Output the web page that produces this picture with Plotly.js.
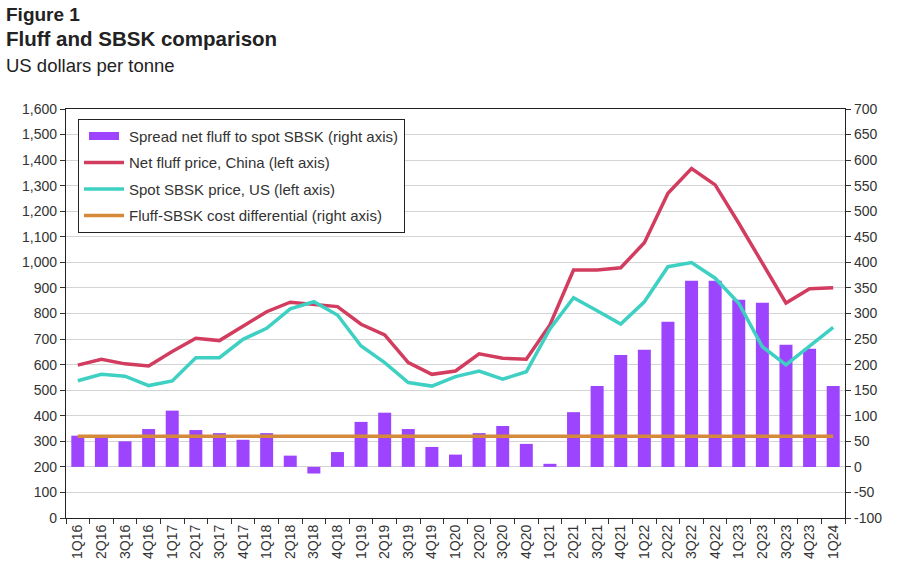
<!DOCTYPE html>
<html>
<head>
<meta charset="utf-8">
<script src="https://cdn.plot.ly/plotly-3.0.1.min.js"></script>
<style>
html,body{margin:0;padding:0;background:#fff;}
#chart{width:909px;height:580px;}
</style>
</head>
<body>
<div id="chart"></div>
<script>
const quarters = ["1Q16","2Q16","3Q16","4Q16","1Q17","2Q17","3Q17","4Q17","1Q18","2Q18","3Q18","4Q18","1Q19","2Q19","3Q19","4Q19","1Q20","2Q20","3Q20","4Q20","1Q21","2Q21","3Q21","4Q21","1Q22","2Q22","3Q22","4Q22","1Q23","2Q23","3Q23","4Q23","1Q24"];

const spreadNetFluff = [61,57,50,74,110,72,66,53,66,22,-13,29,88,106,74,39,24,66,80,45,6,107,158,219,229,284,364,364,327,321,239,231,158];

const netFluffChina = [598,621,603,595,651,703,694,751,807,844,837,827,758,716,608,562,575,642,625,621,755,970,970,979,1077,1270,1367,1303,1153,997,841,897,901];

const spotSBSKUS = [537,562,555,518,536,627,627,699,742,818,846,794,673,608,530,516,553,575,543,572,740,862,811,759,846,983,999,938,840,670,599,673,746];

const costDifferential = [60,60,60,60,60,60,60,60,60,60,60,60,60,60,60,60,60,60,60,60,60,60,60,60,60,60,60,60,60,60,60,60,60];

const leftTickVals = [0,100,200,300,400,500,600,700,800,900,1000,1100,1200,1300,1400,1500,1600];
const rightTickVals = [-100,-50,0,50,100,150,200,250,300,350,400,450,500,550,600,650,700];
const rightTickText = ["-100","-50","0","50","100","150","200","250","300","350","400","450","500","550","600","650","700"];

const FONT = "Liberation Sans, Arial, sans-serif";

const traces = [
  {type:"bar", name:"Spread net fluff to spot SBSK (right axis)", x:quarters, y:spreadNetFluff,
   yaxis:"y", marker:{color:"#9D44FF"}, legendgroup:"a"},
  {type:"scatter", mode:"lines", name:"Net fluff price, China (left axis)", x:quarters, y:netFluffChina,
   yaxis:"y2", line:{color:"#D23C5E", width:3.5}, legendgroup:"b"},
  {type:"scatter", mode:"lines", name:"Spot SBSK price, US (left axis)", x:quarters, y:spotSBSKUS,
   yaxis:"y2", line:{color:"#3ED0C2", width:3.5}, legendgroup:"c"},
  {type:"scatter", mode:"lines", name:"Fluff-SBSK cost differential (right axis)", x:quarters, y:costDifferential,
   yaxis:"y", line:{color:"#D48A3A", width:3.5}, legendgroup:"d"}
];

const layout = {
  width:909, height:580,
  margin:{l:66, r:64, t:109, b:62},
  paper_bgcolor:"#fff", plot_bgcolor:"#fff",
  font:{family:FONT, size:14, color:"#333"},
  bargap:0.45,
  showlegend:true,
  legend:{x:0.0154, y:0.976, xanchor:"left", yanchor:"top", bgcolor:"#fff",
          bordercolor:"#222", borderwidth:1, font:{family:FONT, size:15, color:"#333"},
          traceorder:"grouped", tracegroupgap:4, itemwidth:40},
  xaxis:{type:"category", tickangle:-90, tickson:"boundaries", ticks:"outside", ticklen:5,
         tickcolor:"#333", showline:true, linecolor:"#222", linewidth:1.2, mirror:true,
         showgrid:false, tickfont:{family:FONT, size:14, color:"#333"}},
  yaxis:{side:"right", range:[-100,700], tickvals:rightTickVals, ticktext:rightTickText,
         ticks:"outside", ticklen:5, tickcolor:"#333", showline:true, linecolor:"#222", linewidth:1.2,
         showgrid:true, gridcolor:"#D4D4D4", gridwidth:1, zeroline:false,
         tickfont:{family:FONT, size:14, color:"#333"}},
  yaxis2:{side:"left", overlaying:"y", range:[0,1600], tickvals:leftTickVals, tickformat:",",
          ticks:"outside", ticklen:5, tickcolor:"#333", showline:true, linecolor:"#222", linewidth:1.2,
          showgrid:false, zeroline:false, tickfont:{family:FONT, size:14, color:"#333"}},
  annotations:[
    {text:"<b>Figure 1</b>", xref:"paper", yref:"paper", x:0, y:1, xanchor:"left", yanchor:"middle",
     showarrow:false, font:{family:FONT, size:19, color:"#222"}, xshift:-62, yshift:95},
    {text:"<b>Fluff and SBSK comparison</b>", xref:"paper", yref:"paper", x:0, y:1, xanchor:"left", yanchor:"middle",
     showarrow:false, font:{family:FONT, size:20.5, color:"#222"}, xshift:-62, yshift:71},
    {text:"US dollars per tonne", xref:"paper", yref:"paper", x:0, y:1, xanchor:"left", yanchor:"middle",
     showarrow:false, font:{family:FONT, size:18.5, color:"#222"}, xshift:-62, yshift:44}
  ]
};

Plotly.newPlot("chart", traces, layout, {displayModeBar:false, staticPlot:true}).then(function(gd){
  // widen the bar legend swatch into a long flat rectangle, like the original
  const first = gd.querySelector(".legend .traces .legendpoints path");
  if (first) first.setAttribute("d", "M-15,4H15V-4H-15Z");
});
</script>
</body>
</html>
